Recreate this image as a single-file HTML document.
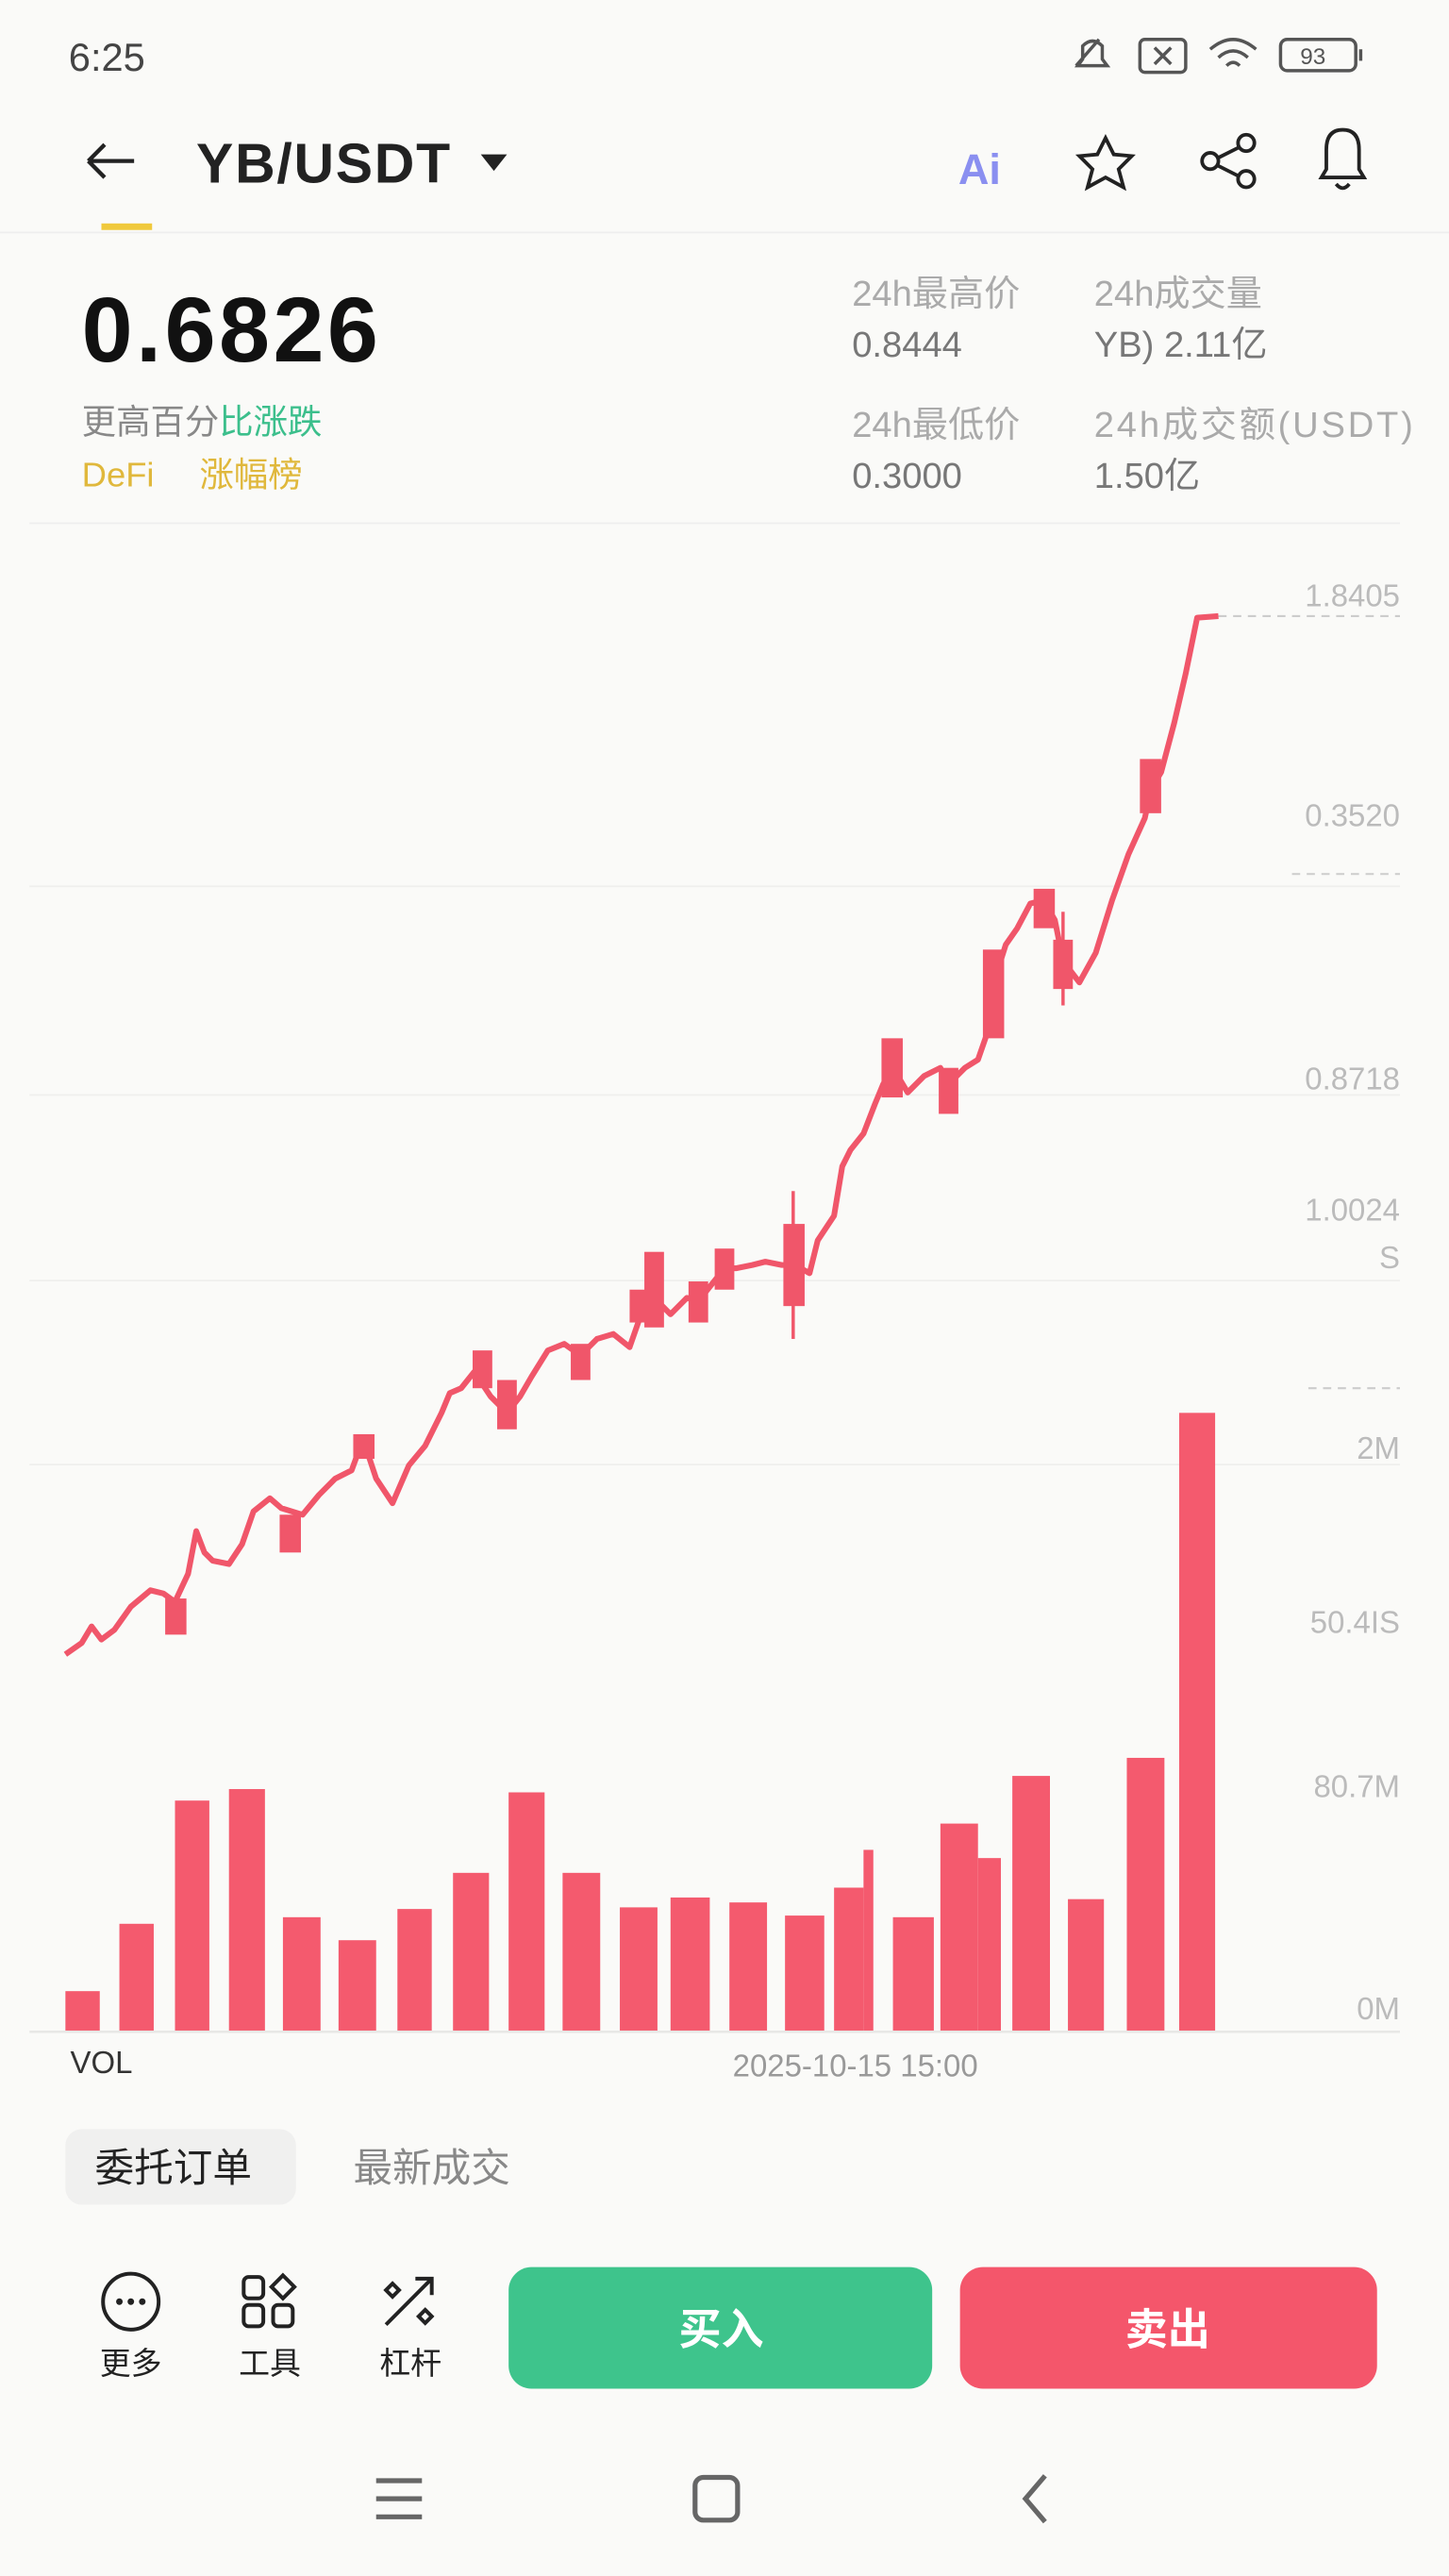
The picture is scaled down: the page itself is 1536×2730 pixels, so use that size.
<!DOCTYPE html>
<html><head><meta charset="utf-8"><style>
html,body{margin:0;padding:0;background:#fafaf8;}
svg{display:block}
text{font-family:"Liberation Sans","Noto Sans CJK SC",sans-serif}
</style></head><body>
<svg width="1536" height="2730" viewBox="0 0 886 1568" preserveAspectRatio="none" xmlns="http://www.w3.org/2000/svg">
<rect width="886" height="1568" fill="#fafaf8"/>
<!-- status bar -->
<text x="42" y="43" font-size="24" fill="#444">6:25</text>
<g stroke="#555" stroke-width="2" fill="none">
<path d="M658 40 L672 24 M662 28 q6-6 12 0 v8 l3 4 h-18 l3-4z"/>
<rect x="697" y="24" width="28" height="20" rx="3"/><path d="M706 29 l10 10 M716 29 l-10 10"/>
<path d="M740 30 q14-12 28 0 M745 35 q9-8 18 0 M750 40 q4-4 8 0"/>
<rect x="783" y="24" width="46" height="19" rx="4"/><path d="M832 30 v7"/>
</g>
<text x="795" y="39" font-size="14" fill="#555">93</text>
<!-- nav -->
<path d="M54 98 H82 M54 98 l10 -10 M54 98 l10 10" stroke="#222" stroke-width="2.5" fill="none"/>
<text x="120" y="111" font-size="34" font-weight="bold" fill="#222" letter-spacing="1">YB/USDT</text>
<path d="M292 94 h16 l-8 10z" fill="#222" transform="translate(2,0)"/>
<text x="586" y="112" font-size="26" font-weight="bold" fill="#8a8ff0">Ai</text>
<path d="M676 84 l5 10 11 1 -8 8 3 11 -11-6 -11 6 3-11 -8-8 11-1z" stroke="#222" stroke-width="2.2" fill="none"/>
<g stroke="#222" stroke-width="2.2" fill="none"><circle cx="762" cy="87" r="5"/><circle cx="740" cy="98" r="5"/><circle cx="762" cy="109" r="5"/><path d="M745 96 l12-6 M745 101 l12 6"/></g>
<path d="M808 108 h26 l-3-5 v-12 q0-12-10-12 q-10 0-10 12 v12z M817 112 q4 5 8 0" stroke="#222" stroke-width="2.2" fill="none"/>
<rect x="62" y="136" width="31" height="4" fill="#f0c93c"/>
<rect x="0" y="141" width="886" height="1" fill="#eee"/>
<!-- price header -->
<text x="50" y="220" font-size="56" font-weight="bold" fill="#111" letter-spacing="2">0.6826</text>
<text x="50" y="264" font-size="21" fill="#888">更高百分<tspan fill="#3cbf8c">比涨跌</tspan></text>
<text x="50" y="296" font-size="21" fill="#e0b83c">DeFi</text>
<text x="122" y="296" font-size="21" fill="#e0b83c">涨幅榜</text>
<g font-size="22">
<text x="521" y="186" fill="#aaa">24h最高价</text><text x="669" y="186" fill="#aaa">24h成交量</text>
<text x="521" y="217" fill="#777">0.8444</text><text x="669" y="217" fill="#777">YB) 2.11亿</text>
<text x="521" y="266" fill="#aaa">24h最低价</text><text x="669" y="266" fill="#aaa" textLength="195">24h成交额(USDT)</text>
<text x="521" y="297" fill="#777">0.3000</text><text x="669" y="297" fill="#777">1.50亿</text>
</g>
<rect x="18" y="318" width="838" height="1" fill="#eee"/>
<!-- grid -->
<g fill="#efefed"><rect x="18" y="539" width="838" height="1"/><rect x="18" y="666" width="838" height="1"/><rect x="18" y="779" width="838" height="1"/><rect x="18" y="891" width="838" height="1"/><rect x="18" y="1236" width="838" height="1.5" fill="#e8e8e6"/></g>
<g font-size="19" fill="#bbb" text-anchor="end">
<text x="856" y="369">1.8405</text><text x="856" y="503">0.3520</text><text x="856" y="663">0.8718</text><text x="856" y="743">1.0024</text><text x="856" y="772">S</text><text x="856" y="888">2M</text><text x="856" y="994">50.4IS</text><text x="856" y="1094">80.7M</text><text x="856" y="1229">0M</text>
</g>
<path d="M745 375 H856 M790 532 H856 M800 845 H856" stroke="#ccc" stroke-width="1.2" stroke-dasharray="5 4"/>
<!-- price line -->
<polyline fill="none" stroke="#f0566a" stroke-width="3.5" stroke-linejoin="round" points="40,1007 50,1000 56,990 62,998 70,992 80,978 92,968 100,970 107,975 115,958 120,932 125,945 130,950 140,952 148,940 155,920 165,912 172,918 185,922 195,910 205,900 215,895 222,876 230,900 240,915 250,892 260,880 270,860 275,848 282,845 290,835 300,850 310,860 318,850 325,838 335,822 345,818 355,825 365,815 375,812 385,820 392,800 400,790 410,800 420,790 427,792 443,772 450,772 460,770 468,768 478,770 486,770 495,775 500,755 510,740 515,710 520,700 528,690 535,672 540,660 546,650 555,665 565,655 575,650 580,660 590,650 598,645 605,625 607,600 615,575 622,565 630,550 638,548 645,560 650,585 660,598 670,580 680,548 690,520 700,498 704,480 710,470 718,440 725,410 732,376 745,375"/>
<g fill="#f0566a">
<rect x="101" y="973" width="13" height="22"/><rect x="171" y="922" width="13" height="23"/><rect x="216" y="873" width="13" height="15"/><rect x="289" y="822" width="12" height="23"/><rect x="304" y="840" width="12" height="30"/><rect x="349" y="818" width="12" height="22"/><rect x="385" y="785" width="12" height="20"/><rect x="394" y="762" width="12" height="46"/><rect x="421" y="780" width="12" height="25"/><rect x="437" y="760" width="12" height="25"/><rect x="479" y="745" width="13" height="50"/><rect x="484" y="725" width="2" height="90"/><rect x="539" y="632" width="13" height="36"/><rect x="574" y="650" width="12" height="28"/><rect x="601" y="578" width="13" height="54"/><rect x="632" y="541" width="13" height="24"/><rect x="644" y="572" width="12" height="30"/><rect x="649" y="555" width="2" height="57"/><rect x="697" y="462" width="13" height="33"/>
</g>
<!-- volume -->
<g fill="#f45a6e">
<rect x="40" y="1212" width="21" height="24"/><rect x="73" y="1171" width="21" height="65"/><rect x="107" y="1096" width="21" height="140"/><rect x="140" y="1089" width="22" height="147"/><rect x="173" y="1167" width="23" height="69"/><rect x="207" y="1181" width="23" height="55"/><rect x="243" y="1162" width="21" height="74"/><rect x="277" y="1140" width="22" height="96"/><rect x="311" y="1091" width="22" height="145"/><rect x="344" y="1140" width="23" height="96"/><rect x="379" y="1161" width="23" height="75"/><rect x="410" y="1155" width="24" height="81"/><rect x="446" y="1158" width="23" height="78"/><rect x="480" y="1166" width="24" height="70"/><rect x="510" y="1149" width="18" height="87"/><rect x="528" y="1126" width="6" height="110"/><rect x="546" y="1167" width="25" height="69"/><rect x="575" y="1110" width="23" height="126"/><rect x="598" y="1131" width="14" height="105"/><rect x="619" y="1081" width="23" height="155"/><rect x="653" y="1156" width="22" height="80"/><rect x="689" y="1070" width="23" height="166"/><rect x="721" y="860" width="22" height="376"/>
</g>
<text x="43" y="1262" font-size="19" fill="#333">VOL</text>
<text x="448" y="1264" font-size="19" fill="#999">2025-10-15 15:00</text>
<!-- tabs -->
<rect x="40" y="1296" width="141" height="46" rx="10" fill="#f0f0ef"/>
<text x="58" y="1328" font-size="24" fill="#222">委托订单</text>
<text x="216" y="1328" font-size="24" fill="#888">最新成交</text>
<!-- bottom toolbar -->
<g stroke="#222" stroke-width="2.3" fill="none">
<circle cx="80" cy="1401" r="17"/>
<rect x="149" y="1386" width="12" height="13" rx="3"/><rect x="149" y="1403" width="12" height="13" rx="3"/><rect x="167" y="1403" width="12" height="13" rx="3"/><path d="M173 1385 l7 7 -7 7 -7 -7z"/>
<path d="M236 1415 l28 -28 M254 1387 h10 v10 M240 1390 l4 4 -4 4 -4 -4z M260 1406 l4 4 -4 4 -4 -4z"/>
</g>
<g fill="#222"><circle cx="73" cy="1401" r="2"/><circle cx="80" cy="1401" r="2"/><circle cx="87" cy="1401" r="2"/></g>
<g font-size="19" fill="#222" text-anchor="middle"><text x="80" y="1445">更多</text><text x="165" y="1445">工具</text><text x="251" y="1445">杠杆</text></g>
<rect x="311" y="1380" width="259" height="74" rx="14" fill="#3ec48c"/>
<text x="441" y="1427" font-size="26" font-weight="bold" fill="#fff" text-anchor="middle">买入</text>
<rect x="587" y="1380" width="255" height="74" rx="14" fill="#f4566b"/>
<text x="714" y="1427" font-size="26" font-weight="bold" fill="#fff" text-anchor="middle">卖出</text>
<!-- nav bar -->
<g stroke="#666" stroke-width="3" fill="none">
<path d="M230 1510 h28 M230 1521 h28 M230 1532 h28"/>
<rect x="425" y="1508" width="26" height="26" rx="5"/>
<path d="M639 1507 l-12 14 12 14"/>
</g>
</svg>
</body></html>
